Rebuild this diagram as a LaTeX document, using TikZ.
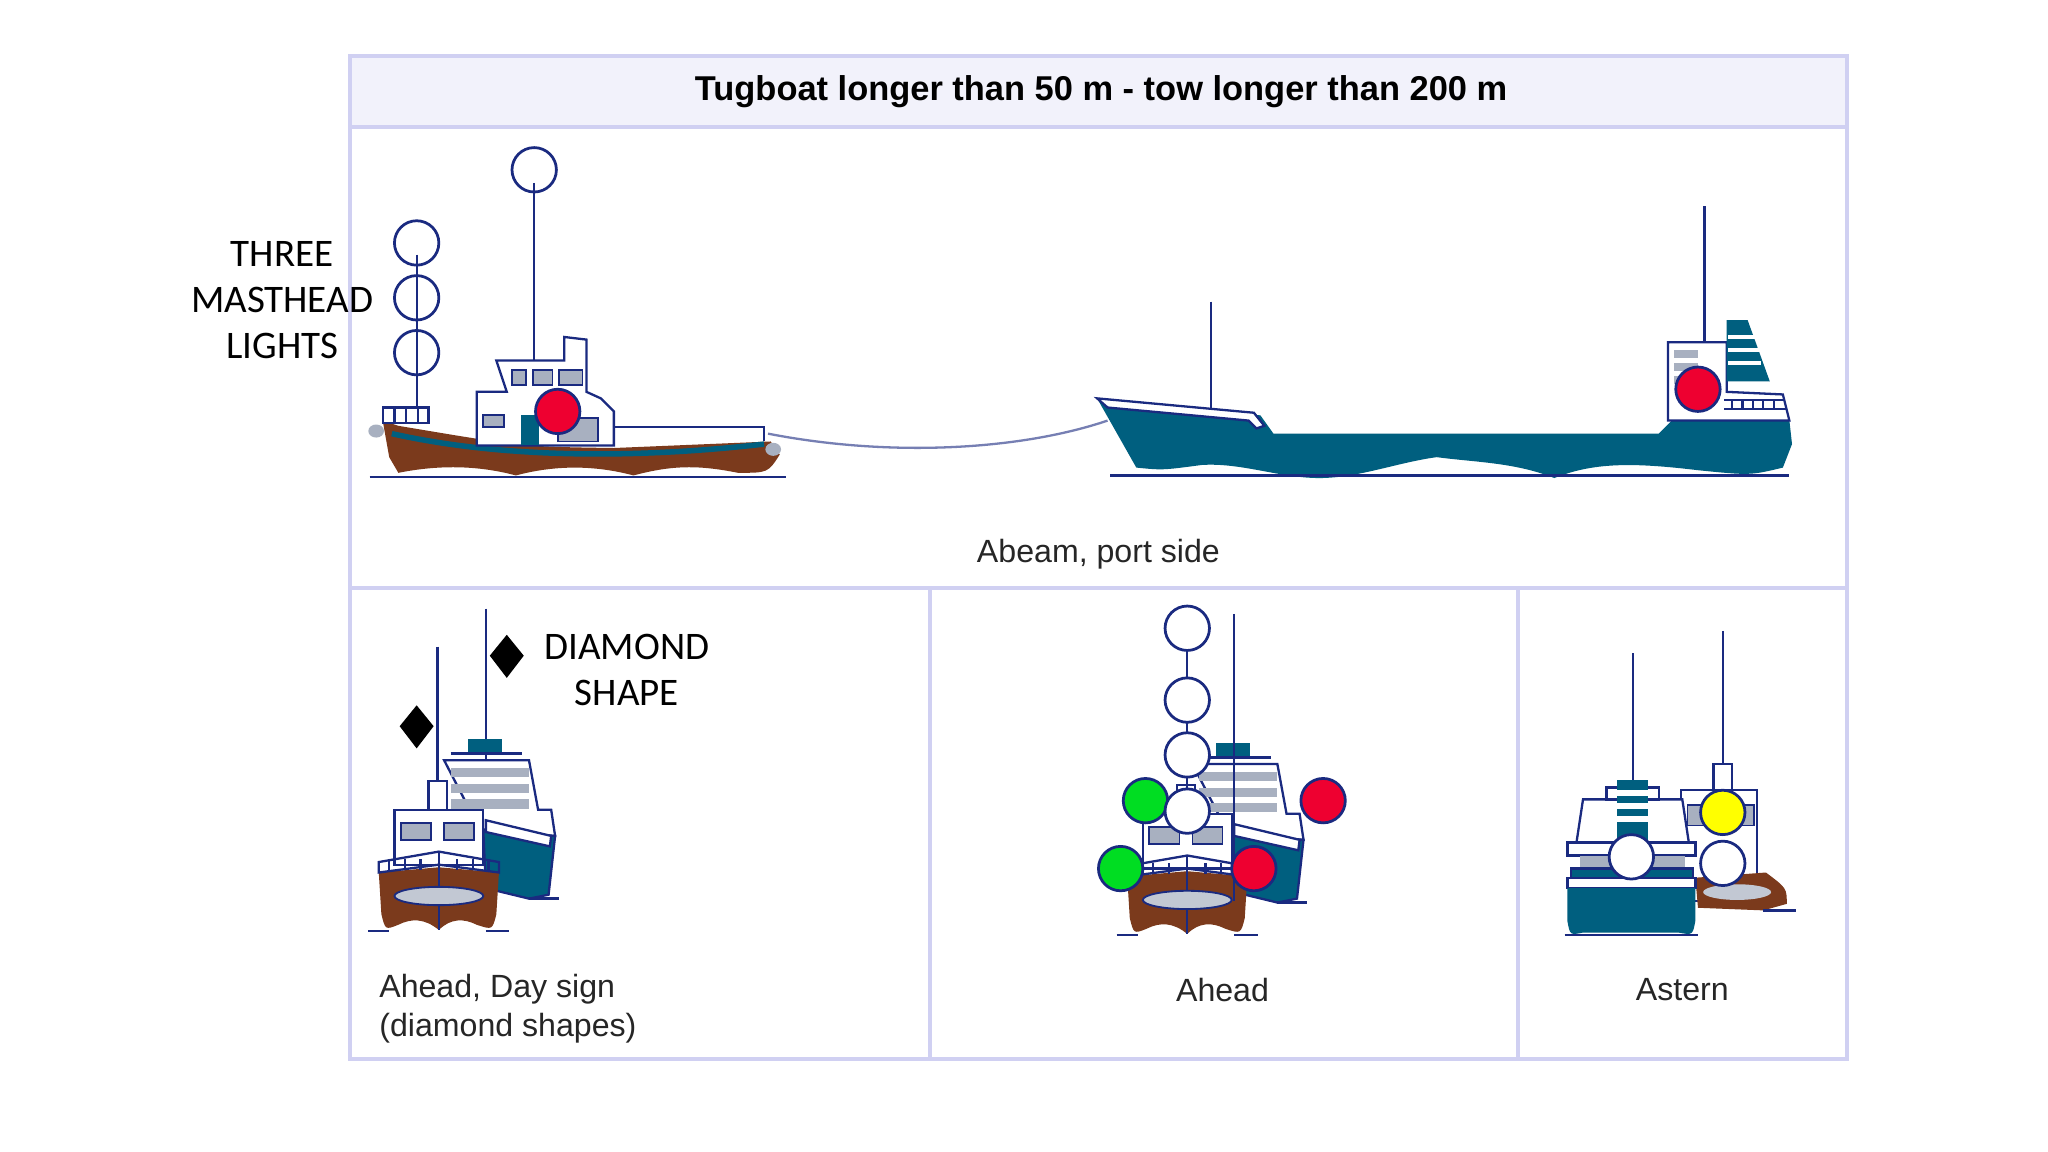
\documentclass[tikz,border=0pt]{standalone}
\usepackage{fontspec}
\setmainfont{Liberation Sans}
\newfontfamily\notefont{Carlito}
\definecolor{navy}{HTML}{1A2A80}
\definecolor{teal2}{HTML}{005F7F}
\definecolor{hullbrown}{HTML}{7B3A1C}
\definecolor{lred}{HTML}{EE0030}
\definecolor{lgreen}{HTML}{00DD22}
\definecolor{lyellow}{HTML}{FFFF00}
\definecolor{wgray}{HTML}{A8B0C0}
\definecolor{frame}{HTML}{D0D0F2}
\definecolor{head}{HTML}{F2F2FB}
\tikzset{
  ln/.style={draw=navy,line width=0.5pt},
  light/.style={circle,draw=navy,line width=0.6pt,minimum size=3.4mm,inner sep=0pt},
  lab/.style={font=\fontsize{7}{8.5}\selectfont,text=black!85},
  note/.style={font=\notefont\fontsize{8.5}{10}\selectfont,align=center},
  win/.style={fill=wgray,draw=navy,line width=0.4pt},
}
\newcommand{\frontpair}{%
  % ship behind
  \filldraw[ln,fill=white] (340,582) -- (405,582) -- (412,620) -- (422,620) -- (425,640) -- (370,640) -- cycle;
  \fill[teal2] (358,566) rectangle (384,577);
  \draw[ln] (345,577) -- (400,577);
  \foreach \y in {588,600,612}{\fill[wgray] (345,\y) rectangle (405,\y+7);}
  \filldraw[ln,fill=teal2] (370,635) -- (425,640) -- (420,685) -- (405,688) -- (372,680) -- cycle;
  \filldraw[ln,fill=white] (372,628) -- (422,640) -- (421,648) -- (372,637) -- cycle;
  \draw[ln] (405,688) -- (428,688);
  % tug front
  \filldraw[ln,fill=white] (302,620) rectangle (370,662);
  \fill[win] (307,630) rectangle (330,643);
  \fill[win] (340,630) rectangle (363,643);
  \filldraw[ln,fill=white] (328,598) rectangle (342,620);
  \fill[hullbrown] (290,668) -- (336,664) -- (382,668) -- (380,700) .. controls (377,712) .. (365,708) .. controls (355,703) and (345,703)..(336,712) .. controls (325,703) and (315,703)..(305,708) .. controls (295,712) .. (292,700) -- cycle;
  \draw[ln] (290,660) -- (336,652) -- (382,660) -- (382,668) -- (336,662) -- (290,668) -- cycle;
  \foreach \x in {298,310,322,350,362,374}{\draw[ln] (\x,658) -- (\x,666);}
  \draw[ln] (336,652) -- (336,712);
  \filldraw[draw=navy,fill=wgray!70,line width=0.4pt] (336,686) ellipse (34 and 7);
  \draw[ln] (282,713) -- (298,713) (372,713) -- (390,713);
}
\begin{document}
\begin{tikzpicture}[x=0.1mm,y=-0.1mm]
\useasboundingbox (0,0) rectangle (1568,882);
\fill[white] (0,0) rectangle (1568,882);
% table
\filldraw[draw=frame,fill=head,line width=0.8pt] (268,43) rectangle (1414,97);
\draw[frame,line width=0.8pt] (268,97) rectangle (1414,811);
\draw[frame,line width=0.8pt] (268,450) -- (1414,450) (712,450) -- (712,811) (1162,450) -- (1162,811);
\node[font=\bfseries\fontsize{7.5}{9}\selectfont] (title) at (843,70) {Tugboat longer than 50 m - tow longer than 200 m};
\node[lab] (abeam) at (841,424) {Abeam, port side};
\node[lab,anchor=west,align=left] (dayl) at (278,772) {Ahead, Day sign\\(diamond shapes)};
\node[lab] (aheadl) at (936,758) {Ahead};
\node[lab] (asternl) at (1288,758) {Astern};
\node[note] (three) at (216,230) {THREE\\MASTHEAD\\LIGHTS};
\node[note] (diam) at (480,513) {DIAMOND\\SHAPE};

% ---- tug side view
\draw[ln] (319,195) -- (319,318);
\draw[ln] (409,140) -- (409,276);
\fill[hullbrown] (293,322) -- (305,326) .. controls (400,342) .. (470,343) -- (590,338) -- (597,348) .. controls (588,362) .. (565,362) .. controls (535,356) and (515,356) .. (485,364) .. controls (455,356) and (425,356) .. (395,364) .. controls (365,356) and (335,356) .. (305,362) -- (298,350) -- cycle;
\draw[teal2,line width=1.2pt] (300,332) .. controls (380,350) and (480,352) .. (585,340);
\draw[ln] (283,365) -- (602,365);
\filldraw[ln,fill=white] (293,312) rectangle (328,324);
\foreach \x in {302,311,320}{\draw[ln] (\x,312) -- (\x,324);}
\filldraw[ln,fill=white] (380,276) -- (432,276) -- (432,258) -- (449,260) -- (449,300) -- (460,305) -- (470,315) -- (470,341) -- (365,341) -- (365,300) -- (388,300) -- cycle;
\fill[win] (392,283) rectangle (403,295);
\fill[win] (408,283) rectangle (423,295);
\fill[win] (428,283) rectangle (446,295);
\fill[win] (370,318) rectangle (386,327);
\fill[teal2] (399,318) rectangle (413,341);
\fill[win] (427,320) rectangle (458,338);
\draw[ln] (470,327) -- (585,327) -- (585,338);
\fill[wgray] (288,330) ellipse (6 and 5);
\fill[wgray] (592,344) ellipse (6 and 5);
\node[light] (m1) at (319,186) {};
\node[light] (m2) at (319,228) {};
\node[light] (m3) at (319,270) {};
\node[light] (mt) at (409,130) {};
\node[light,fill=lred] (tugred) at (427,315) {};
\coordinate (towa) at (588,332);
\coordinate (towb) at (848,322);
\draw[navy!60,line width=0.5pt] (towa) .. controls (680,350) and (780,345) .. (towb);

% ---- towed ship side view
\draw[ln] (927,231) -- (927,318);
\draw[ln] (1305,158) -- (1305,262);
\fill[teal2] (840,305) -- (965,318) -- (975,332) -- (1270,332) -- (1280,322) -- (1370,322) -- (1372,340) -- (1365,358) .. controls (1340,364) .. (1300,360) .. controls (1250,354) and (1220,354) .. (1190,366) .. controls (1160,354) and (1130,354) .. (1100,350) .. controls (1070,354) and (1040,366) .. (1010,366) .. controls (980,366) and (950,354) .. (920,356) .. controls (890,360) .. (870,358) -- cycle;
\filldraw[ln,fill=white] (840,305) -- (960,316) -- (968,326) -- (962,328) -- (956,322) -- (848,312) -- cycle;
\draw[ln] (850,364) -- (1370,364);
\filldraw[ln,fill=white] (1277,262) -- (1322,262) -- (1322,300) -- (1365,302) -- (1370,322) -- (1277,322) -- cycle;
\foreach \y in {268,278,288}{\fill[wgray] (1282,\y) rectangle (1300,\y+6);}
\fill[teal2] (1322,245) -- (1338,245) -- (1355,292) -- (1322,292) -- cycle;
\foreach \y in {258,268,278}{\draw[white,line width=1pt] (1323,\y) -- (1348,\y);}
\draw[ln] (1320,306) -- (1366,306) (1320,313) -- (1368,313);
\foreach \x in {1326,1334,...,1362}{\draw[ln] (\x,306) -- (\x,313);}
\node[light,fill=lred] (shipred) at (1300,298) {};

% ---- bottom left: day signs
\draw[ln] (335,495) -- (335,620);
\draw[ln] (372,466) -- (372,600);
\frontpair
\fill[black] (319,540) -- (332,556) -- (319,573) -- (306,556) -- cycle;
\fill[black] (388,486) -- (401,502) -- (388,519) -- (375,502) -- cycle;

% ---- bottom middle: ahead
\begin{scope}[shift={(573,3)}]
\frontpair
\end{scope}
\draw[ln] (945,470) -- (945,690);
\draw[ln] (909,481) -- (909,621);
\node[light,fill=white] (a1) at (909,481) {};
\node[light,fill=white] (a2) at (909,536) {};
\node[light,fill=white] (a3) at (909,578) {};
\node[light,fill=lgreen] (g1) at (877,613) {};
\node[light,fill=white] (a4) at (909,621) {};
\node[light,fill=lred] (r1) at (1013,613) {};
\node[light,fill=lgreen] (g2) at (858,665) {};
\node[light,fill=lred] (r2) at (960,665) {};

% ---- bottom right: astern
\draw[ln] (1250,500) -- (1250,600);
\draw[ln] (1319,483) -- (1319,585);
\filldraw[ln,fill=white] (1287,605) rectangle (1345,690);
\fill[win] (1292,616) rectangle (1343,632);
\filldraw[ln,fill=white] (1312,585) rectangle (1326,605);
\fill[hullbrown] (1298,672) -- (1352,668) .. controls (1368,680) .. (1368,692) -- (1350,697) -- (1300,695) -- cycle;
\fill[wgray!70] (1330,683) ellipse (26 and 6);
\draw[ln] (1350,697) -- (1375,697);
\filldraw[ln,fill=white] (1212,612) -- (1288,612) -- (1293,645) -- (1207,645) -- cycle;
\filldraw[ln,fill=white] (1230,603) rectangle (1270,612);
\fill[teal2] (1238,597) rectangle (1262,645);
\foreach \y in {607,617,627}{\draw[white,line width=1.2pt] (1238,\y) -- (1262,\y);}
\filldraw[ln,fill=white] (1200,645) rectangle (1298,655);
\fill[wgray] (1210,655) rectangle (1290,665);
\filldraw[ln,fill=teal2] (1203,665) rectangle (1296,672);
\filldraw[ln,fill=white] (1200,672) rectangle (1298,680);
\fill[teal2] (1200,680) -- (1298,680) -- (1298,705) .. controls (1296,716) .. (1285,714) -- (1212,714) .. controls (1202,716) .. (1200,705) -- cycle;
\draw[ln] (1198,716) -- (1300,716);
\node[light,fill=lyellow] (y1) at (1319,622) {};
\node[light,fill=white] (w1) at (1249,656) {};
\node[light,fill=white] (w2) at (1319,661) {};
\end{tikzpicture}
\end{document}
